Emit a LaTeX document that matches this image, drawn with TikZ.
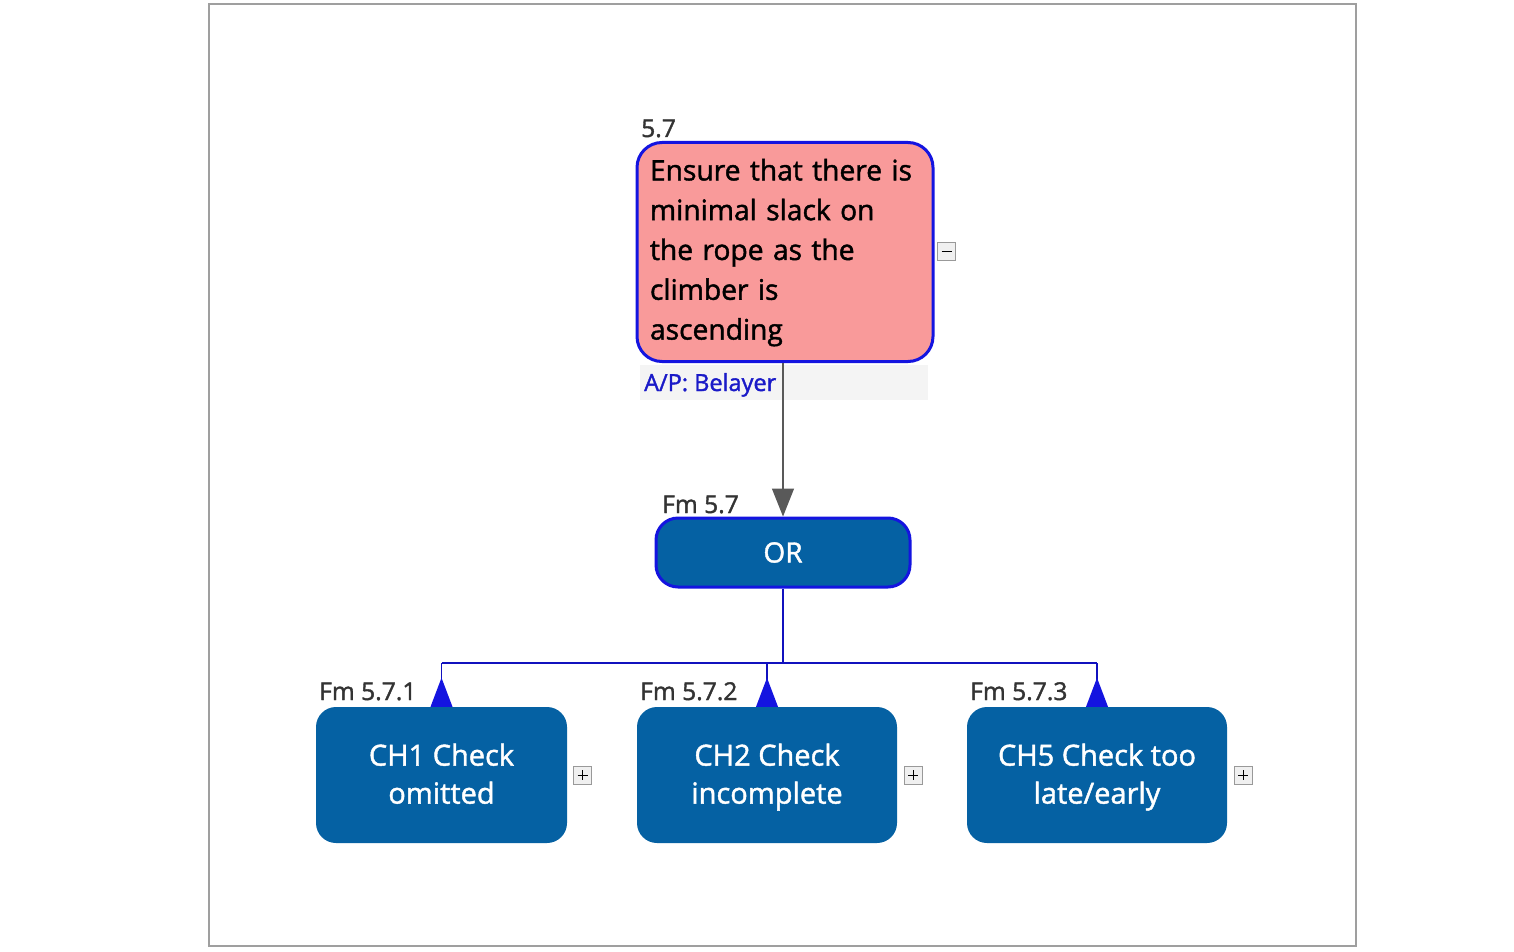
\documentclass[tikz,border=0pt]{standalone}
\usepackage{fontspec}
\setmainfont{Open Sans}[FakeBold=1.5]
\usetikzlibrary{arrows.meta,calc}
\definecolor{pinkfill}{HTML}{F99A9A}
\definecolor{edgeblue}{HTML}{1414E0}
\definecolor{boxblue}{HTML}{0561A3}
\definecolor{labelgray}{HTML}{333333}
\definecolor{arrowgray}{HTML}{595959}
\definecolor{apblue}{HTML}{1A1AC8}
\newcommand{\topstrut}{\rule{0pt}{30.6pt}}
\tikzset{
  goalbox/.style={draw=edgeblue, line width=3pt, fill=pinkfill, rounded corners=25pt,
    minimum width=296pt, minimum height=219pt, align=left, inner sep=0pt, text width=270pt,
    font=\fontsize{28.2}{39.8}\selectfont, text=black},
  orbox/.style={draw=edgeblue, line width=3pt, fill=boxblue, rounded corners=22pt,
    minimum width=254pt, minimum height=69pt, text=white, font=\fontsize{28}{30}\selectfont},
  childbox/.style={fill=boxblue, rounded corners=20pt, minimum height=136pt,
    text=white, align=center, font=\fontsize{29}{38}\selectfont},
  idlabel/.style={anchor=base west, text=labelgray, inner sep=0pt, font=\fontsize{24.6}{26}\selectfont},
  togglebox/.style={draw=gray!80, fill=gray!12, line width=0.8pt, minimum size=18pt, inner sep=0pt},
  bus/.style={draw=edgeblue!85!black, line width=1.4pt},
}
\begin{document}
\begin{tikzpicture}[x=1pt,y=-1pt]
\useasboundingbox (0,0) rectangle (1514,952);
\fill[white] (0,0) rectangle (1514,952);
\draw[gray!75, line width=2pt] (209,4) rectangle (1356,946);

% top goal
\node[goalbox] (goal) at (785,252) {\strut Ensure that there is\\\strut minimal slack on\\\strut the rope as the\\\strut climber is\\\strut ascending};
\node[idlabel] (goalid) at (641,137) {5.7};
\node[togglebox] (goaltog) at (946.5,251) {};
\draw[black, line width=1pt] ($(goaltog.center)+(-5,0)$) -- ($(goaltog.center)+(5,0)$);

% A/P label
\node[fill=gray!9, minimum width=288pt, minimum height=35pt, inner sep=0pt] (apbg) at (784,382.5) {};
\node[anchor=base west, text=apblue, inner sep=0pt, font=\fontsize{23.5}{26}\selectfont] (ap) at (644,391) {A/P: Belayer};

% OR gate
\node[orbox] (or) at (783,552.5) {OR};
\node[idlabel] (orid) at (662,513) {Fm 5.7};
\draw[arrowgray, line width=1.3pt, -{Triangle[length=28pt,width=22pt]}] (goal.south -| or.north) -- (or.north);

% children
\node[childbox, minimum width=251pt] (c1) at (441.5,775) {\topstrut CH1 Check\\\strut omitted};
\node[childbox, minimum width=260pt] (c2) at (767,775) {\topstrut CH2 Check\\\strut incomplete};
\node[childbox, minimum width=260pt] (c3) at (1097,775) {\topstrut CH5 Check too\\\strut late/early};
\node[idlabel] (c1id) at (319,700) {Fm 5.7.1};
\node[idlabel] (c2id) at (640,700) {Fm 5.7.2};
\node[idlabel] (c3id) at (970,700) {Fm 5.7.3};

\coordinate (busmid) at (783,663);
\coordinate (bus1) at (441.5,663);
\coordinate (bus2) at (767,663);
\coordinate (bus3) at (1097,663);
\draw[bus] (or.south) -- (busmid);
\draw[bus] (bus1) -- (bus3);
\foreach \c/\b in {c1/bus1,c2/bus2,c3/bus3}{
  \draw[bus] (\b) -- (\c.north);
  \fill[edgeblue] ($(\c.north)+(-11,0)$) -- ($(\c.north)+(0,-29)$) -- ($(\c.north)+(11,0)$) -- cycle;
}

% toggles
\node[togglebox] (t1) at (582.5,775) {};
\node[togglebox] (t2) at (913,775) {};
\node[togglebox] (t3) at (1243,775) {};
\foreach \t in {t1,t2,t3}{
  \draw[black, line width=1pt] ($(\t.center)+(-5,0)$) -- ($(\t.center)+(5,0)$);
  \draw[black, line width=1pt] ($(\t.center)+(0,-5)$) -- ($(\t.center)+(0,5)$);
}
\end{tikzpicture}
\end{document}
